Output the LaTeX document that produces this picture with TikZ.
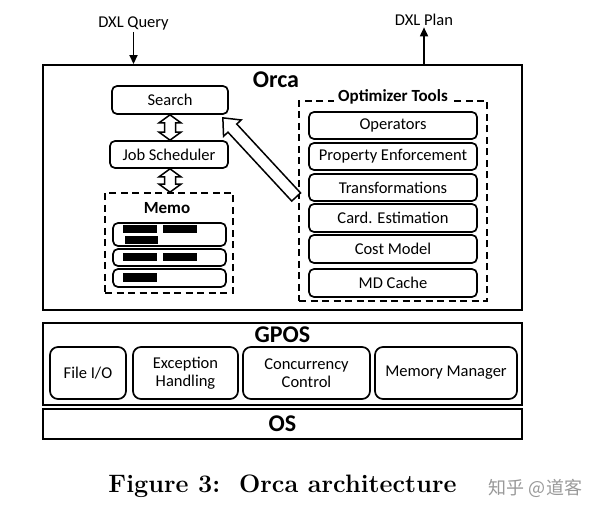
\documentclass[tikz,border=0pt]{standalone}
\usepackage{fontspec}
\newfontfamily\carl{Carlito}
\newfontfamily\cjkfont{Noto Sans CJK SC}
\usetikzlibrary{arrows.meta,calc}
\newcommand\dblarr[2]{%
  \draw[hollow] (#1) -- ($(#1)+(11,8)$) -- ($(#1)+(5.5,8)$) -- ($(#2)+(5.5,-8)$) -- ($(#2)+(11,-8)$) -- (#2)
    -- ($(#2)+(-11,-8)$) -- ($(#2)+(-5.5,-8)$) -- ($(#1)+(-5.5,8)$) -- ($(#1)+(-11,8)$) -- cycle;}
\begin{document}
\begin{tikzpicture}[x=1pt,y=-1pt,
  txt/.style={font=\carl\fontsize{16.5}{18.5}\selectfont},
  ttl/.style={font=\carl\bfseries\fontsize{24}{27}\selectfont, inner sep=0pt},
  sub/.style={font=\carl\bfseries\fontsize{17}{19}\selectfont, inner sep=0pt},
  frame/.style={draw, line width=1.9pt, inner sep=0pt},
  rbox/.style={draw, line width=1.7pt, rounded corners=5pt, inner sep=0pt, align=center, txt},
  dbox/.style={draw, line width=1.7pt, dash pattern=on 7pt off 4.5pt, inner sep=0pt},
  arr/.style={line width=1.7pt, -{Triangle[length=9pt,width=8pt]}},
  hollow/.style={draw, line width=1.5pt, fill=white, line join=miter},
  bar/.style={fill=black}
]
\useasboundingbox (0,0) rectangle (600,521);

% top labels
\node[txt, anchor=base, inner sep=1pt] (dxlq) at (133.5,28) {DXL Query};
\node[txt, anchor=base, inner sep=1pt] (dxlp) at (424,26) {DXL Plan};

% Orca frame
\node[frame, minimum width=479pt, minimum height=245pt] (orca) at (282.5,187.5) {};
\node[ttl] (orcat) at (276,80) {Orca};

\draw[arr] (dxlq.south) -- (dxlq.south |- orca.north);
\draw[arr] (orca.north -| dxlp.south) -- (dxlp.south);

% left column
\node[rbox, minimum width=116pt, minimum height=28pt] (search) at (170,100) {Search};
\node[rbox, minimum width=118pt, minimum height=27pt] (job) at (169,154.5) {Job Scheduler};
\node[dbox, minimum width=128pt, minimum height=100pt] (memo) at (169,243) {};
\node[sub] (memot) at (167,208) {Memo};
\node[rbox, minimum width=113pt, minimum height=23pt] (m1) at (169.5,234.5) {};
\node[rbox, minimum width=113pt, minimum height=17pt] (m2) at (169.5,257.5) {};
\node[rbox, minimum width=113pt, minimum height=18pt] (m3) at (169.5,278) {};
\fill[bar] (123,225) rectangle (157,233);
\fill[bar] (163,225) rectangle (197,233);
\fill[bar] (125,236) rectangle (158,244);
\fill[bar] (123,253) rectangle (157,261.5);
\fill[bar] (163,253) rectangle (197,261.5);
\fill[bar] (123,273) rectangle (157,282);

\coordinate (d1t) at (search.south);
\coordinate (d1b) at (search.south |- job.north);
\dblarr{d1t}{d1b}
\coordinate (d2t) at (search.south |- job.south);
\coordinate (d2b) at (search.south |- memo.north);
\dblarr{d2t}{d2b}

% Optimizer tools
\node[dbox, minimum width=188pt, minimum height=200pt] (opt) at (393,201) {};
\node[sub, fill=white, inner xsep=4pt, inner ysep=1pt] (optt) at (393,97) {Optimizer Tools};
\node[rbox, minimum width=168pt, minimum height=27pt] (t1) at (393,125.5) {Operators};
\node[rbox, minimum width=168pt, minimum height=27pt] (t2) at (393,156.5) {Property Enforcement};
\node[rbox, minimum width=168pt, minimum height=27pt] (t3) at (393,187.5) {Transformations};
\node[rbox, minimum width=168pt, minimum height=28pt] (t4) at (393,218) {Card. Estimation};
\node[rbox, minimum width=168pt, minimum height=28pt] (t5) at (393,249) {Cost Model};
\node[rbox, minimum width=168pt, minimum height=28pt] (t6) at (393,283) {MD Cache};

% big hollow arrow
\coordinate (bt) at ($(search.south east)+(-6,3)$);
\coordinate (ba) at ($(opt.west)+(-2,-4)$);
\coordinate (bh) at ($(bt)!14pt!(ba)$);
\draw[hollow] (bt) -- ($(bh)!12pt!90:(ba)$) -- ($(bh)!6pt!90:(ba)$) -- ($(ba)!6pt!-90:(bh)$)
  -- ($(ba)!6pt!90:(bh)$) -- ($(bh)!6pt!-90:(ba)$) -- ($(bh)!12pt!-90:(ba)$) -- cycle;

% GPOS
\node[frame, minimum width=479pt, minimum height=82pt] (gpos) at (282.5,364) {};
\node[ttl] (gpost) at (282.5,334.5) {GPOS};
\node[rbox, rounded corners=8pt, minimum width=76pt, minimum height=52pt] (fio) at (88,373) {File I/O};
\node[rbox, rounded corners=8pt, minimum width=105pt, minimum height=52pt] (exc) at (185.5,373) {Exception\\Handling};
\node[rbox, rounded corners=8pt, minimum width=127pt, minimum height=52pt] (conc) at (306.5,373) {Concurrency\\Control};
\node[rbox, rounded corners=8pt, minimum width=142pt, minimum height=52pt] (mem) at (446,373) {Memory Manager};

% OS
\node[frame, minimum width=479pt, minimum height=30pt] (os) at (282.5,424) {};
\node[ttl] (ost) at (282.5,424) {OS};

% caption
\node[anchor=base, inner sep=0pt, font=\bfseries\fontsize{25.2}{28}\selectfont] (cap) at (282.5,492) {Figure 3:\ \ Orca architecture};
\node[anchor=base, inner sep=0pt, text=black!40, font=\cjkfont\fontsize{18}{20}\selectfont] (wm) at (535.5,494) {知乎 @道客};
\end{tikzpicture}
\end{document}
